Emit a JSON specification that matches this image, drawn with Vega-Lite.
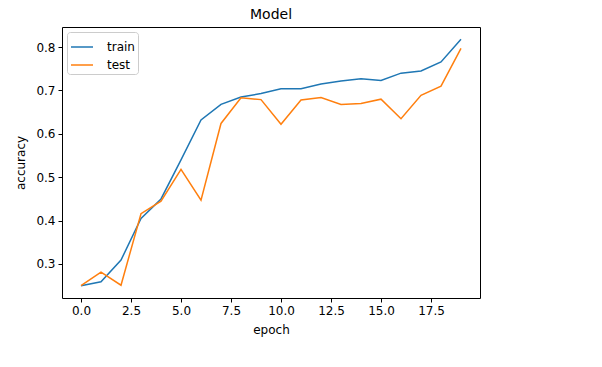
{
  "$schema": "https://vega.github.io/schema/vega-lite/v6.json",
  "autosize": {"type": "none"},
  "width": 418,
  "height": 271,
  "padding": {"left": 62, "top": 27, "right": 122, "bottom": 69},
  "background": "white",
  "title": {"text": "Model", "fontSize": 14, "font": "DejaVu Sans", "fontWeight": "normal", "color": "#000", "offset": 5},
  "data": {"values": [
    {"epoch": 0, "series": "train", "accuracy": 0.250},
    {"epoch": 1, "series": "train", "accuracy": 0.259},
    {"epoch": 2, "series": "train", "accuracy": 0.309},
    {"epoch": 3, "series": "train", "accuracy": 0.405},
    {"epoch": 4, "series": "train", "accuracy": 0.450},
    {"epoch": 5, "series": "train", "accuracy": 0.540},
    {"epoch": 6, "series": "train", "accuracy": 0.632},
    {"epoch": 7, "series": "train", "accuracy": 0.668},
    {"epoch": 8, "series": "train", "accuracy": 0.685},
    {"epoch": 9, "series": "train", "accuracy": 0.693},
    {"epoch": 10, "series": "train", "accuracy": 0.704},
    {"epoch": 11, "series": "train", "accuracy": 0.704},
    {"epoch": 12, "series": "train", "accuracy": 0.715},
    {"epoch": 13, "series": "train", "accuracy": 0.722},
    {"epoch": 14, "series": "train", "accuracy": 0.727},
    {"epoch": 15, "series": "train", "accuracy": 0.723},
    {"epoch": 16, "series": "train", "accuracy": 0.740},
    {"epoch": 17, "series": "train", "accuracy": 0.745},
    {"epoch": 18, "series": "train", "accuracy": 0.766},
    {"epoch": 19, "series": "train", "accuracy": 0.818},
    {"epoch": 0, "series": "test", "accuracy": 0.250},
    {"epoch": 1, "series": "test", "accuracy": 0.281},
    {"epoch": 2, "series": "test", "accuracy": 0.251},
    {"epoch": 3, "series": "test", "accuracy": 0.416},
    {"epoch": 4, "series": "test", "accuracy": 0.445},
    {"epoch": 5, "series": "test", "accuracy": 0.518},
    {"epoch": 6, "series": "test", "accuracy": 0.447},
    {"epoch": 7, "series": "test", "accuracy": 0.624},
    {"epoch": 8, "series": "test", "accuracy": 0.683},
    {"epoch": 9, "series": "test", "accuracy": 0.679},
    {"epoch": 10, "series": "test", "accuracy": 0.622},
    {"epoch": 11, "series": "test", "accuracy": 0.678},
    {"epoch": 12, "series": "test", "accuracy": 0.684},
    {"epoch": 13, "series": "test", "accuracy": 0.668},
    {"epoch": 14, "series": "test", "accuracy": 0.670},
    {"epoch": 15, "series": "test", "accuracy": 0.680},
    {"epoch": 16, "series": "test", "accuracy": 0.635},
    {"epoch": 17, "series": "test", "accuracy": 0.689},
    {"epoch": 18, "series": "test", "accuracy": 0.710},
    {"epoch": 19, "series": "test", "accuracy": 0.797}
  ]},
  "mark": {"type": "line", "strokeWidth": 1.5},
  "encoding": {
    "x": {
      "field": "epoch", "type": "quantitative",
      "scale": {"domain": [-0.95, 19.95], "nice": false, "zero": false},
      "axis": {"values": [0, 2.5, 5, 7.5, 10, 12.5, 15, 17.5], "format": ".1f", "grid": false, "title": "epoch", "titlePadding": 8}
    },
    "y": {
      "field": "accuracy", "type": "quantitative",
      "scale": {"domain": [0.2216, 0.8464], "nice": false, "zero": false},
      "axis": {"values": [0.3, 0.4, 0.5, 0.6, 0.7, 0.8], "format": ".1f", "grid": false, "title": "accuracy", "titlePadding": 8}
    },
    "color": {
      "field": "series", "type": "nominal",
      "sort": ["train", "test"],
      "scale": {"domain": ["train", "test"], "range": ["#1f77b4", "#ff7f0e"]},
      "legend": {
        "title": null, "orient": "top-left", "offset": 5,
        "symbolType": "stroke", "symbolSize": 484, "symbolStrokeWidth": 1.5,
        "labelFontSize": 12, "labelFont": "DejaVu Sans", "labelColor": "#000",
        "padding": 3, "fillColor": "white", "strokeColor": "#cccccc", "cornerRadius": 3,
        "rowPadding": -4, "labelOffset": 13
      }
    }
  },
  "config": {
    "view": {"stroke": "#000", "strokeWidth": 1},
    "axis": {
      "domain": false, "tickColor": "#000", "tickSize": 4, "tickWidth": 1,
      "labelFont": "DejaVu Sans", "labelFontSize": 12, "labelColor": "#000", "labelPadding": 3,
      "titleFont": "DejaVu Sans", "titleFontSize": 12, "titleFontWeight": "normal", "titleColor": "#000"
    }
  }
}
